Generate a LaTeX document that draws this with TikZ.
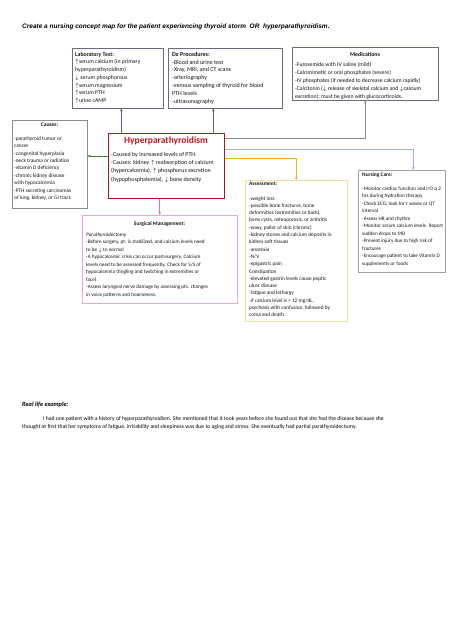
\documentclass[tikz,border=0pt]{standalone}
\usepackage{fontspec}
\setmainfont{Carlito}
\newfontfamily\arialf{Liberation Sans}
\usetikzlibrary{arrows.meta,calc}
\newcommand{\myup}{$\uparrow$}
\newcommand{\mydn}{$\downarrow$}
\newcommand{\fsz}[2]{\fontsize{#1}{#2}\selectfont}
\definecolor{boxgray}{HTML}{6E6A80}
\definecolor{cgray}{HTML}{8C8C8C}
\definecolor{purp}{HTML}{705090}
\definecolor{grn}{HTML}{4E7A3A}
\definecolor{mainred}{HTML}{B01020}
\definecolor{titred}{HTML}{C0181E}
\definecolor{pinkb}{HTML}{E3A8E3}
\definecolor{pinka}{HTML}{D070C0}
\definecolor{yelb}{HTML}{EDE3A0}
\definecolor{yela}{HTML}{E8B020}
\definecolor{nbox}{HTML}{A0A0A0}
\definecolor{nblue}{HTML}{9DB4D0}
\definecolor{txtc}{HTML}{141414}
\begin{document}
\begin{tikzpicture}[x=1pt,y=-1pt,
  box/.style={draw=#1, line width=0.5pt, inner sep=0pt, anchor=north west},
  txt/.style={anchor=north west, inner sep=0pt, align=left, text=txtc},
  ttl/.style={anchor=center, inner sep=0pt, text=txtc},
  arr/.style={draw=#1, line width=0.6pt, -{Stealth[length=3pt,width=2.6pt]}}]
\useasboundingbox[fill=white] (0,0) rectangle (474,632);

% title
\node[anchor=west, inner sep=0pt, font=\arialf\bfseries\itshape\fsz{6.5}{7}] (title) at (22,27)
  {Create a nursing concept map for the patient experiencing thyroid storm\ \ OR\ \ hyperparathyroidism.};

% boxes
\node[box=boxgray, minimum width=91pt, minimum height=60pt] (lab) at (72,48) {};
\node[box=boxgray, minimum width=114pt, minimum height=60pt] (dx) at (168,48) {};
\node[box=boxgray, minimum width=146pt, minimum height=53pt] (meds) at (292,47) {};
\node[box=cgray, minimum width=75pt, minimum height=88pt] (causes) at (12,120) {};
\node[box=mainred, line width=1.1pt, minimum width=116pt, minimum height=65pt] (main) at (108,133) {};
\node[box=pinkb, minimum width=155pt, minimum height=88pt] (surg) at (82,215) {};
\node[box=yelb, minimum width=102pt, minimum height=141pt] (assess) at (245,180) {};
\node[box=nbox, minimum width=87pt, minimum height=102pt] (nurse) at (358,170) {};

% lab text
\node[txt, font=\fsz{5.8}{7.7}] (labt) at (75,52) {%
  \textbf{Laboratory Test:}\\
  \myup serum calcium (in primary\\
  hyperparathyroidism)\\
  \mydn\ serum phosphorous\\
  \myup serum magnesium\\
  \myup serum PTH\\
  \myup urine cAMP};

% dx text
\node[txt, font=\fsz{6.0}{7.8}] (dxt) at (172,51.8) {%
  \textbf{Dx Procedures:}\\
  -Blood and urine test\\
  -Xray, MRI, and CT scans\\
  -arteriography\\
  -venous sampling of thyroid for blood\\
  PTH levels\\
  -ultrasonography};

% meds
\node[ttl, font=\bfseries\fsz{5.8}{7}] (medst) at (365,54) {Medications};
\node[txt, font=\fsz{5.7}{8}] (medsb) at (295,62.2) {%
  -Furosemide with IV saline (mild)\\
  -Calcimimetic or oral phosphates (severe)\\
  -IV phosphates (if needed to decrease calcium rapidly)\\
  -Calcitonin (\mydn\ release of skeletal calcium and \mydn calcium\\
  excretion); must be given with glucocorticoids.};

% causes
\node[ttl, font=\bfseries\fsz{5.5}{7}] (causest) at (49.5,125) {Causes:};
\node[txt, font=\fsz{5.35}{7.4}] (causesb) at (14,136.3) {%
  -parathyroid tumor or\\
  cancer\\
  -congenital hyperplasia\\
  -neck trauma or radiation\\
  -vitamin D deficiency\\
  -chronic kidney disease\\
  with hypocalcemia\\
  -PTH secreting carcinomas\\
  of lung, kidney, or GI tract.};

% main
\node[ttl, font=\bfseries\fsz{9.5}{10}, text=titred] (maint) at (166,141) {Hyperparathyroidism};
\node[txt, font=\fsz{6.0}{8.3}] (mainb) at (111,151.8) {%
  -Caused by increased levels of PTH.\\
  -Causes: kidney \myup\ reabsorption of calcium\\
  (hypercalcemia), \myup\ phosphorus excretion\\
  (hypophosphatemia), \mydn\ bone density};

% surgical
\node[ttl, font=\bfseries\fsz{5.5}{7}] (surgt) at (159.5,224) {Surgical Management:};
\node[txt, font=\fsz{5.2}{7.5}] (surgb) at (86,232.3) {%
  \textit{Parathyroidectomy}\\
  -Before surgery, pt. is stabilized, and calcium levels need\\
  to be \mydn\ to normal\\
  -A hypocalcemic crisis can occur post-surgery. Calcium\\
  levels need to be assessed frequently. Check for S/S of\\
  hypocalcemia (tingling and twitching in extremities or\\
  face)\\
  -Assess laryngeal nerve damage by assessing pts. changes\\
  in voice patterns and hoarseness.};

% assessment
\node[txt, font=\bfseries\fsz{5.4}{7}] (assesst) at (249,182.2) {Assessment:};
\node[txt, font=\fsz{5.3}{7.3}] (assessb) at (249,196.2) {%
  -weight loss\\
  -possible bone fractures, bone\\
  deformities (extremities or back),\\
  bone cysts, osteoporosis, or arthritis\\
  -waxy, pallor of skin (chronic)\\
  -kidney stones and calcium deposits in\\
  kidney soft tissues\\
  -anorexia\\
  -N/V\\
  -epigastric pain\\
  Constipation\\
  -elevated gastrin levels cause peptic\\
  ulcer disease\\
  -fatigue and lethargy\\
  -if calcium level is > 12 mg/dL,\\
  psychosis with confusion, followed by\\
  coma and death.};

% nursing
\node[txt, font=\bfseries\fsz{5.4}{7}] (nurset) at (362,172.2) {Nursing Care:};
\node[txt, font=\fsz{5.2}{7.5}] (nurseb) at (362,186.3) {%
  -Monitor cardiac function and I/O q 2\\
  hrs during hydration therapy\\
  -Check ECG; look for t waves or QT\\
  interval\\
  -Assess HR and rhythm\\
  -Monitor serum calcium levels. Report\\
  sudden drops to MD\\
  -Prevent injury due to high risk of\\
  fractures\\
  -Encourage patient to take Vitamin D\\
  supplements or foods};

% connectors
\path ([xshift=3.5pt]lab.south) coordinate (labin);
\draw[arr=purp] (main.north -| labin) -- (labin);
\path ([xshift=-12pt]dx.south) coordinate (dxin);
\draw[arr=purp] (main.north -| dxin) -- (dxin);
\draw[arr=cgray] ([yshift=-5pt]main.north east) -| (meds.south);
\draw[arr=nblue] ([yshift=-16pt]main.north east) -| ([xshift=11.5pt]nurse.north);
\draw[arr=yela] ([yshift=-25pt]main.north east) -| (assess.north);
\path ([yshift=-23pt]main.north west) coordinate (cout);
\draw[arr=grn] (cout) -- (causes.east |- cout);
\draw[arr=pinka] (main.south -| surg.north) -- (surg.north);

% real life example
\node[anchor=west, inner sep=0pt, font=\bfseries\itshape\fsz{6.3}{7}] (rl) at (22,405) {Real life example:};
\node[anchor=north west, inner sep=0pt, align=left, font=\fsz{5.65}{8.2}] (rlp) at (22,416) {%
  \hspace*{21pt}I had one patient with a history of hyperparathyroidism. She mentioned that it took years before she found out that she had the disease because she\\
  thought at first that her symptoms of fatigue, irritability and sleepiness was due to aging and stress. She eventually had partial parathyroidectomy.};
\end{tikzpicture}
\end{document}
